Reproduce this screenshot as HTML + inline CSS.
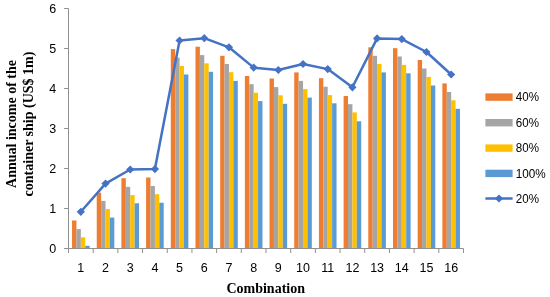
<!DOCTYPE html>
<html><head><meta charset="utf-8"><title>Chart</title>
<style>html,body{margin:0;padding:0;background:#fff}svg{display:block}
.s{font-family:"Liberation Sans",sans-serif;font-size:12.5px;fill:#000}
.t{font-family:"Liberation Serif",serif;font-weight:bold;font-size:14px;fill:#000}
</style></head><body>
<svg width="550" height="297" viewBox="0 0 550 297">
<rect width="550" height="297" fill="#fff"/>
<rect x="72.04" y="220.50" width="4.40" height="28.00" fill="#ED7D31"/>
<rect x="76.44" y="229.10" width="4.40" height="19.40" fill="#A5A5A5"/>
<rect x="80.84" y="237.30" width="4.40" height="11.20" fill="#FFC000"/>
<rect x="85.24" y="245.80" width="4.40" height="2.70" fill="#5B9BD5"/>
<rect x="96.73" y="192.70" width="4.40" height="55.80" fill="#ED7D31"/>
<rect x="101.13" y="200.90" width="4.40" height="47.60" fill="#A5A5A5"/>
<rect x="105.53" y="209.10" width="4.40" height="39.40" fill="#FFC000"/>
<rect x="109.93" y="217.60" width="4.40" height="30.90" fill="#5B9BD5"/>
<rect x="121.42" y="178.20" width="4.40" height="70.30" fill="#ED7D31"/>
<rect x="125.82" y="186.90" width="4.40" height="61.60" fill="#A5A5A5"/>
<rect x="130.22" y="195.10" width="4.40" height="53.40" fill="#FFC000"/>
<rect x="134.62" y="203.30" width="4.40" height="45.20" fill="#5B9BD5"/>
<rect x="146.11" y="177.50" width="4.40" height="71.00" fill="#ED7D31"/>
<rect x="150.51" y="186.00" width="4.40" height="62.50" fill="#A5A5A5"/>
<rect x="154.91" y="194.20" width="4.40" height="54.30" fill="#FFC000"/>
<rect x="159.31" y="202.70" width="4.40" height="45.80" fill="#5B9BD5"/>
<rect x="170.79" y="49.10" width="4.40" height="199.40" fill="#ED7D31"/>
<rect x="175.19" y="57.60" width="4.40" height="190.90" fill="#A5A5A5"/>
<rect x="179.59" y="66.00" width="4.40" height="182.50" fill="#FFC000"/>
<rect x="183.99" y="74.50" width="4.40" height="174.00" fill="#5B9BD5"/>
<rect x="195.48" y="46.70" width="4.40" height="201.80" fill="#ED7D31"/>
<rect x="199.88" y="55.10" width="4.40" height="193.40" fill="#A5A5A5"/>
<rect x="204.28" y="63.30" width="4.40" height="185.20" fill="#FFC000"/>
<rect x="208.68" y="71.80" width="4.40" height="176.70" fill="#5B9BD5"/>
<rect x="220.17" y="55.80" width="4.40" height="192.70" fill="#ED7D31"/>
<rect x="224.57" y="64.00" width="4.40" height="184.50" fill="#A5A5A5"/>
<rect x="228.97" y="72.20" width="4.40" height="176.30" fill="#FFC000"/>
<rect x="233.37" y="80.90" width="4.40" height="167.60" fill="#5B9BD5"/>
<rect x="244.86" y="76.00" width="4.40" height="172.50" fill="#ED7D31"/>
<rect x="249.26" y="84.20" width="4.40" height="164.30" fill="#A5A5A5"/>
<rect x="253.66" y="92.70" width="4.40" height="155.80" fill="#FFC000"/>
<rect x="258.06" y="101.10" width="4.40" height="147.40" fill="#5B9BD5"/>
<rect x="269.54" y="78.50" width="4.40" height="170.00" fill="#ED7D31"/>
<rect x="273.94" y="87.10" width="4.40" height="161.40" fill="#A5A5A5"/>
<rect x="278.34" y="95.30" width="4.40" height="153.20" fill="#FFC000"/>
<rect x="282.74" y="103.80" width="4.40" height="144.70" fill="#5B9BD5"/>
<rect x="294.23" y="72.40" width="4.40" height="176.10" fill="#ED7D31"/>
<rect x="298.63" y="80.90" width="4.40" height="167.60" fill="#A5A5A5"/>
<rect x="303.03" y="89.10" width="4.40" height="159.40" fill="#FFC000"/>
<rect x="307.43" y="97.60" width="4.40" height="150.90" fill="#5B9BD5"/>
<rect x="318.92" y="78.20" width="4.40" height="170.30" fill="#ED7D31"/>
<rect x="323.32" y="86.70" width="4.40" height="161.80" fill="#A5A5A5"/>
<rect x="327.72" y="95.10" width="4.40" height="153.40" fill="#FFC000"/>
<rect x="332.12" y="103.30" width="4.40" height="145.20" fill="#5B9BD5"/>
<rect x="343.61" y="96.00" width="4.40" height="152.50" fill="#ED7D31"/>
<rect x="348.01" y="104.20" width="4.40" height="144.30" fill="#A5A5A5"/>
<rect x="352.41" y="112.40" width="4.40" height="136.10" fill="#FFC000"/>
<rect x="356.81" y="121.30" width="4.40" height="127.20" fill="#5B9BD5"/>
<rect x="368.29" y="47.30" width="4.40" height="201.20" fill="#ED7D31"/>
<rect x="372.69" y="55.80" width="4.40" height="192.70" fill="#A5A5A5"/>
<rect x="377.09" y="64.00" width="4.40" height="184.50" fill="#FFC000"/>
<rect x="381.49" y="72.40" width="4.40" height="176.10" fill="#5B9BD5"/>
<rect x="392.98" y="48.20" width="4.40" height="200.30" fill="#ED7D31"/>
<rect x="397.38" y="56.50" width="4.40" height="192.00" fill="#A5A5A5"/>
<rect x="401.78" y="64.90" width="4.40" height="183.60" fill="#FFC000"/>
<rect x="406.18" y="73.30" width="4.40" height="175.20" fill="#5B9BD5"/>
<rect x="417.67" y="60.00" width="4.40" height="188.50" fill="#ED7D31"/>
<rect x="422.07" y="68.50" width="4.40" height="180.00" fill="#A5A5A5"/>
<rect x="426.47" y="76.90" width="4.40" height="171.60" fill="#FFC000"/>
<rect x="430.87" y="85.50" width="4.40" height="163.00" fill="#5B9BD5"/>
<rect x="442.36" y="83.40" width="4.40" height="165.10" fill="#ED7D31"/>
<rect x="446.76" y="92.00" width="4.40" height="156.50" fill="#A5A5A5"/>
<rect x="451.16" y="100.30" width="4.40" height="148.20" fill="#FFC000"/>
<rect x="455.56" y="108.80" width="4.40" height="139.70" fill="#5B9BD5"/>
<g stroke="#909090" stroke-width="1" fill="none">
<line x1="68.50" y1="8.50" x2="68.50" y2="248.50"/>
<line x1="68.50" y1="248.50" x2="463.50" y2="248.50"/>
<line x1="64.10" y1="248.50" x2="68.50" y2="248.50"/>
<line x1="64.10" y1="208.50" x2="68.50" y2="208.50"/>
<line x1="64.10" y1="168.50" x2="68.50" y2="168.50"/>
<line x1="64.10" y1="128.50" x2="68.50" y2="128.50"/>
<line x1="64.10" y1="88.50" x2="68.50" y2="88.50"/>
<line x1="64.10" y1="48.50" x2="68.50" y2="48.50"/>
<line x1="64.10" y1="8.50" x2="68.50" y2="8.50"/>
<line x1="68.50" y1="248.50" x2="68.50" y2="253.00"/>
<line x1="93.19" y1="248.50" x2="93.19" y2="253.00"/>
<line x1="117.88" y1="248.50" x2="117.88" y2="253.00"/>
<line x1="142.56" y1="248.50" x2="142.56" y2="253.00"/>
<line x1="167.25" y1="248.50" x2="167.25" y2="253.00"/>
<line x1="191.94" y1="248.50" x2="191.94" y2="253.00"/>
<line x1="216.62" y1="248.50" x2="216.62" y2="253.00"/>
<line x1="241.31" y1="248.50" x2="241.31" y2="253.00"/>
<line x1="266.00" y1="248.50" x2="266.00" y2="253.00"/>
<line x1="290.69" y1="248.50" x2="290.69" y2="253.00"/>
<line x1="315.38" y1="248.50" x2="315.38" y2="253.00"/>
<line x1="340.06" y1="248.50" x2="340.06" y2="253.00"/>
<line x1="364.75" y1="248.50" x2="364.75" y2="253.00"/>
<line x1="389.44" y1="248.50" x2="389.44" y2="253.00"/>
<line x1="414.12" y1="248.50" x2="414.12" y2="253.00"/>
<line x1="438.81" y1="248.50" x2="438.81" y2="253.00"/>
<line x1="463.50" y1="248.50" x2="463.50" y2="253.00"/>
</g>
<polyline fill="none" stroke="#4472C4" stroke-width="2.5" stroke-linejoin="round" stroke-linecap="round" points="80.84,211.80 105.53,183.60 130.22,169.50 154.91,169.10 179.59,40.50 204.28,38.20 228.97,47.30 253.66,67.60 278.34,70.00 303.03,64.00 327.72,69.10 352.41,87.30 377.09,38.40 401.78,39.10 426.47,52.00 451.16,74.50"/>
<path fill="#4472C4" d="M80.84 207.70L84.94 211.80L80.84 215.90L76.74 211.80Z"/>
<path fill="#4472C4" d="M105.53 179.50L109.63 183.60L105.53 187.70L101.43 183.60Z"/>
<path fill="#4472C4" d="M130.22 165.40L134.32 169.50L130.22 173.60L126.12 169.50Z"/>
<path fill="#4472C4" d="M154.91 165.00L159.01 169.10L154.91 173.20L150.81 169.10Z"/>
<path fill="#4472C4" d="M179.59 36.40L183.69 40.50L179.59 44.60L175.49 40.50Z"/>
<path fill="#4472C4" d="M204.28 34.10L208.38 38.20L204.28 42.30L200.18 38.20Z"/>
<path fill="#4472C4" d="M228.97 43.20L233.07 47.30L228.97 51.40L224.87 47.30Z"/>
<path fill="#4472C4" d="M253.66 63.50L257.76 67.60L253.66 71.70L249.56 67.60Z"/>
<path fill="#4472C4" d="M278.34 65.90L282.44 70.00L278.34 74.10L274.24 70.00Z"/>
<path fill="#4472C4" d="M303.03 59.90L307.13 64.00L303.03 68.10L298.93 64.00Z"/>
<path fill="#4472C4" d="M327.72 65.00L331.82 69.10L327.72 73.20L323.62 69.10Z"/>
<path fill="#4472C4" d="M352.41 83.20L356.51 87.30L352.41 91.40L348.31 87.30Z"/>
<path fill="#4472C4" d="M377.09 34.30L381.19 38.40L377.09 42.50L372.99 38.40Z"/>
<path fill="#4472C4" d="M401.78 35.00L405.88 39.10L401.78 43.20L397.68 39.10Z"/>
<path fill="#4472C4" d="M426.47 47.90L430.57 52.00L426.47 56.10L422.37 52.00Z"/>
<path fill="#4472C4" d="M451.16 70.40L455.26 74.50L451.16 78.60L447.06 74.50Z"/>
<text class="s" x="56.2" y="253.3" text-anchor="end">0</text>
<text class="s" x="56.2" y="213.3" text-anchor="end">1</text>
<text class="s" x="56.2" y="173.3" text-anchor="end">2</text>
<text class="s" x="56.2" y="133.3" text-anchor="end">3</text>
<text class="s" x="56.2" y="93.3" text-anchor="end">4</text>
<text class="s" x="56.2" y="53.3" text-anchor="end">5</text>
<text class="s" x="56.2" y="13.3" text-anchor="end">6</text>
<text class="s" x="80.8" y="271.5" text-anchor="middle">1</text>
<text class="s" x="105.5" y="271.5" text-anchor="middle">2</text>
<text class="s" x="130.2" y="271.5" text-anchor="middle">3</text>
<text class="s" x="154.9" y="271.5" text-anchor="middle">4</text>
<text class="s" x="179.6" y="271.5" text-anchor="middle">5</text>
<text class="s" x="204.3" y="271.5" text-anchor="middle">6</text>
<text class="s" x="229.0" y="271.5" text-anchor="middle">7</text>
<text class="s" x="253.7" y="271.5" text-anchor="middle">8</text>
<text class="s" x="278.3" y="271.5" text-anchor="middle">9</text>
<text class="s" x="303.0" y="271.5" text-anchor="middle">10</text>
<text class="s" x="327.7" y="271.5" text-anchor="middle">11</text>
<text class="s" x="352.4" y="271.5" text-anchor="middle">12</text>
<text class="s" x="377.1" y="271.5" text-anchor="middle">13</text>
<text class="s" x="401.8" y="271.5" text-anchor="middle">14</text>
<text class="s" x="426.5" y="271.5" text-anchor="middle">15</text>
<text class="s" x="451.2" y="271.5" text-anchor="middle">16</text>
<text class="t" x="265.7" y="292.6" text-anchor="middle">Combination</text>
<text class="t" transform="translate(15.7,124) rotate(-90)" text-anchor="middle">Annual income of the</text>
<text class="t" transform="translate(33.3,124) rotate(-90)" text-anchor="middle">container ship (US$ 1m)</text>
<rect x="485.4" y="93.40" width="27.2" height="7.4" fill="#ED7D31"/>
<text class="s" x="515.8" y="101.4" textLength="23.2" lengthAdjust="spacingAndGlyphs">40%</text>
<rect x="485.4" y="119.00" width="27.2" height="7.4" fill="#A5A5A5"/>
<text class="s" x="515.8" y="127.0" textLength="23.2" lengthAdjust="spacingAndGlyphs">60%</text>
<rect x="485.4" y="144.40" width="27.2" height="7.4" fill="#FFC000"/>
<text class="s" x="515.8" y="152.4" textLength="23.2" lengthAdjust="spacingAndGlyphs">80%</text>
<rect x="485.4" y="169.70" width="27.2" height="7.4" fill="#5B9BD5"/>
<text class="s" x="515.8" y="177.7" textLength="30.0" lengthAdjust="spacingAndGlyphs">100%</text>
<line x1="485.4" y1="198.50" x2="512.6" y2="198.50" stroke="#4472C4" stroke-width="2.5"/>
<path fill="#4472C4" d="M499.00 194.40L503.10 198.50L499.00 202.60L494.90 198.50Z"/>
<text class="s" x="515.8" y="202.8" textLength="23.2" lengthAdjust="spacingAndGlyphs">20%</text>
</svg>
</body></html>
